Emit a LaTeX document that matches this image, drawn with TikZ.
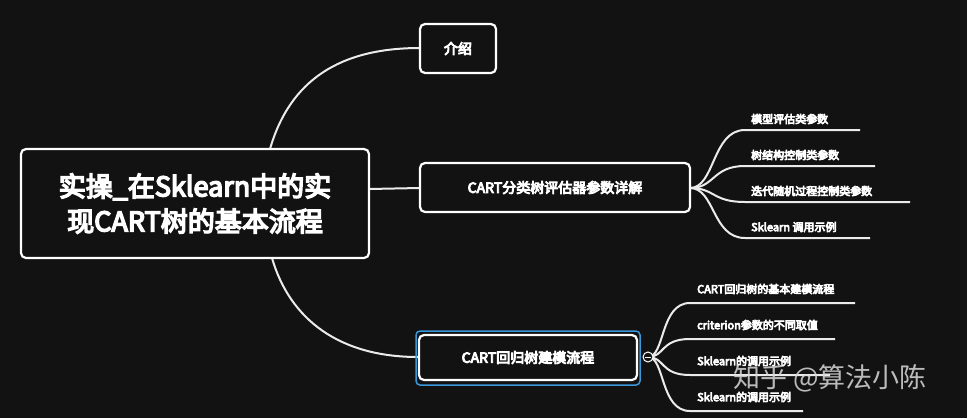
\documentclass[tikz,border=0pt]{standalone}
\usepackage{fontspec}
\setmainfont{Noto Sans CJK SC}
\newcommand\bdoff{\special{pdf:code 0 Tr}}
\newcommand\bd[2][0.7]{\special{pdf:code 2 Tr #1 w 1 1 1 RG}#2\bdoff}
\begin{document}
\begin{tikzpicture}[x=1pt,y=-1pt,
  box/.style={draw=white,line width=2.2pt,rounded corners=5pt,fill=bg,text=white},
  leaf/.style={text=white,font=\fontsize{11}{13}\selectfont,anchor=west,inner sep=0pt},
  br/.style={draw=white!92!black,line width=2pt}]
\definecolor{bg}{HTML}{121212}
\fill[bg] (0,0) rectangle (967,418);
\useasboundingbox (0,0) rectangle (967,418);
\coordinate (rb) at (272,258);
\coordinate (rt) at (270,149);
\draw[br] (rt) .. controls (290,80) and (340,48) .. (420,48);
\draw[br] (369,189) -- (420,188);
\draw[br] (rb) .. controls (290,320) and (340,357) .. (418,357);
\coordinate (cs) at (690,188);
\foreach \y/\e in {130/860,166/875,202/910,238/870}{
  \draw[br] (cs) .. controls (715,188) and (712,\y) .. (745,\y) -- (\e,\y);}
\coordinate (rs) at (648,357);
\foreach \y/\e in {303/855,339/835,375/830,411/803}{
  \draw[br] (rs) .. controls (665,357) and (660,\y) .. (690,\y) -- (\e,\y);}
\node[box,minimum width=348,minimum height=109,align=center,font=\fontsize{27}{35}\selectfont] (root) at (195,203.5) {\bd[1.5]{实操\_在Sklearn中的实}\\\bd[1.5]{现CART树的基本流程}};
\node[box,minimum width=76,minimum height=49,font=\fontsize{14}{16}\selectfont] (intro) at (458,48.5) {\bd[0.9]{介绍}};
\node[box,minimum width=270,minimum height=49,font=\fontsize{14}{16}\selectfont] (cls) at (555,187.5) {\bd[0.9]{CART分类树评估器参数详解}};
\draw[cyan!70!blue!80!white,line width=1.5pt,rounded corners=4pt] (416,331) rectangle (640,385);
\node[box,minimum width=218,minimum height=45,font=\fontsize{14}{16}\selectfont] (reg) at (528,357.5) {\bd[0.9]{CART回归树建模流程}};
\node[draw=white,fill=bg,circle,inner sep=0pt,minimum size=10pt,line width=1pt] (col) at (rs) {};
\draw[white,line width=1pt] ([xshift=-3pt]col.center) -- ([xshift=3pt]col.center);
\node[leaf] (a1) at (751,119) {\bd{模型评估类参数}};
\node[leaf] (a2) at (751,155) {\bd{树结构控制类参数}};
\node[leaf] (a3) at (751,191) {\bd{迭代随机过程控制类参数}};
\node[leaf] (a4) at (751,227) {\bd{Sklearn 调用示例}};
\node[leaf] (b1) at (697,289) {\bd{CART回归树的基本建模流程}};
\node[leaf] (b2) at (697,325) {\bd{criterion参数的不同取值}};
\node[leaf] (b3) at (697,361) {\bd{Sklearn的调用示例}};
\node[leaf] (b4) at (697,397) {\bd{Sklearn的调用示例}};
\node[text=white!85!black,opacity=0.85,anchor=west,inner sep=0pt,font=\fontsize{27}{29}\selectfont] (wm) at (733,378) {知乎 @算法小陈};
\end{tikzpicture}
\end{document}
